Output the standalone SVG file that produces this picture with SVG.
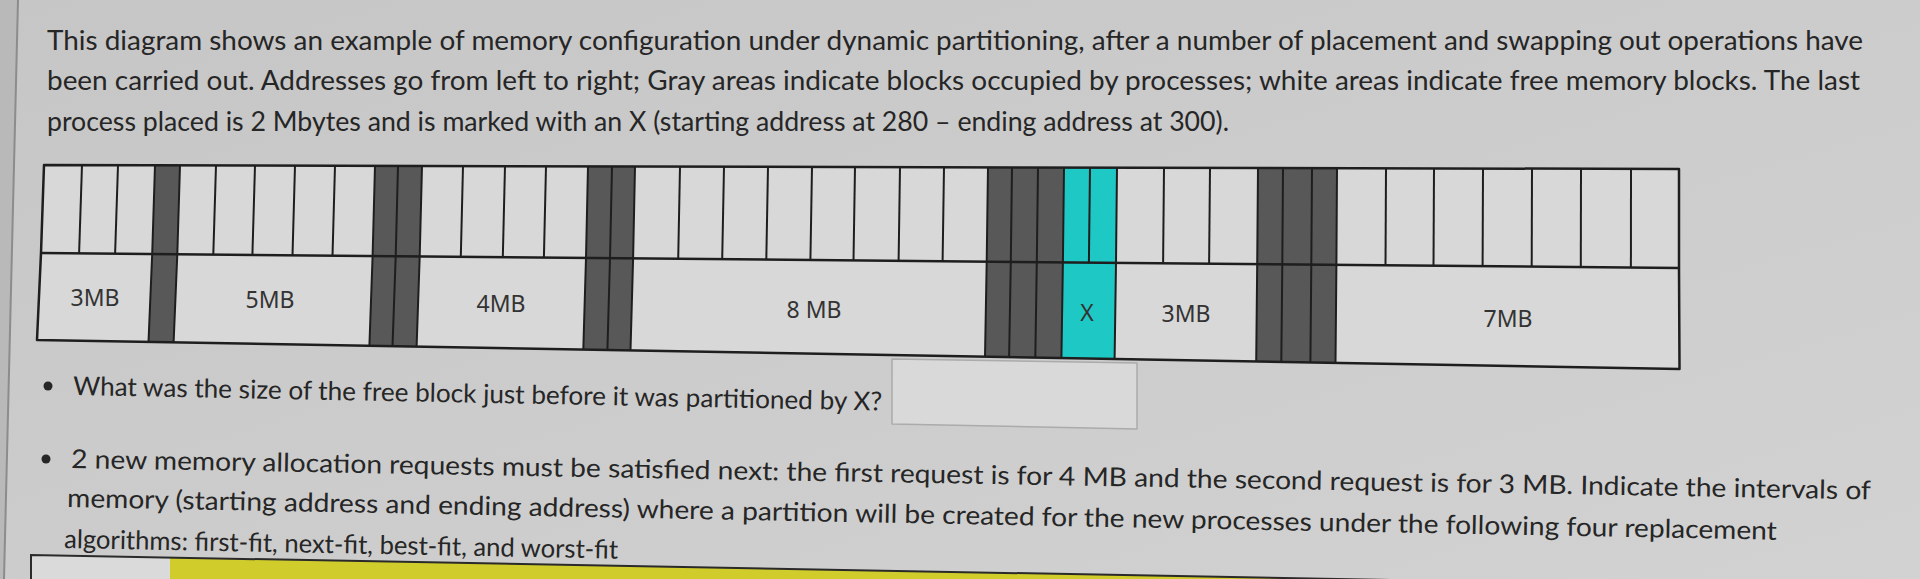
<svg xmlns="http://www.w3.org/2000/svg" width="1920" height="579" viewBox="0 0 1920 579">
  <defs>
    <linearGradient id="bg" x1="0" y1="0" x2="1" y2="1">
      <stop offset="0" stop-color="#c6c6c6"/>
      <stop offset="1" stop-color="#d2d2d2"/>
    </linearGradient>
    <style>
      .para { font-family: Lato, "Open Sans", "Liberation Sans", sans-serif; font-size: 26px; fill: #262626; }
      .lbl { font-family: "Noto Sans", "DejaVu Sans", sans-serif; font-size: 23px; fill: #333333; text-anchor: middle; }
      .free { fill: #d8d8d8; }
      .used { fill: #585858; }
      .x { fill: #1ec9c5; }
      .ln { fill: none; stroke: #1e1e1e; stroke-width: 2; stroke-linejoin: round; }
      .bd { fill: none; stroke: #1e1e1e; stroke-width: 2.5; stroke-linejoin: round; }
    </style>
  </defs>

  <rect x="0" y="0" width="1920" height="579" fill="url(#bg)"/>
  <polygon points="0,0 18,0 4,579 0,579" fill="#b9b9b9"/>
  <line x1="18" y1="0" x2="4" y2="579" stroke="#8c8c8c" stroke-width="2"/>

  <g id="intro">
    <text class="para" x="47" y="50" textLength="1816" lengthAdjust="spacingAndGlyphs">This diagram shows an example of memory configuration under dynamic partitioning, after a number of placement and swapping out operations have</text>
    <text class="para" x="47" y="90" textLength="1813" lengthAdjust="spacingAndGlyphs">been carried out. Addresses go from left to right; Gray areas indicate blocks occupied by processes; white areas indicate free memory blocks. The last</text>
    <text class="para" x="47" y="131" textLength="1182" lengthAdjust="spacingAndGlyphs">process placed is 2 Mbytes and is marked with an X (starting address at 280 – ending address at 300).</text>
  </g>

  <g id="memory-map">
    <polygon class="free" points="44,165 1679,169 1679,268 1679.5,369 37,340 41,253"/>
    <g id="blocks">
      <polygon class="used" points="155,165.3 180,165.3 177.3,254.3 173.6,342.5 148.5,342.1 152.2,254"/>
      <polygon class="used" points="375,165.8 422,165.9 419.7,256.5 416.6,346.7 369.4,345.9 372.6,256.1"/>
      <polygon class="used" points="588,166.3 635,166.5 633.1,258.5 630.5,350.5 583.3,349.6 586,258"/>
      <polygon class="used" points="988,167.3 1064,167.5 1062.9,262.4 1061.4,358.1 985,356.7 986.7,261.7"/>
      <polygon id="block-x" class="x" points="1064,167.5 1117,167.6 1116,262.8 1114.6,359 1061.4,358.1 1062.9,262.4"/>
      <polygon class="used" points="1258,168 1337,168.2 1336.4,264.9 1335.5,362.9 1256.2,361.5 1257.2,264.1"/>
    </g>
    <g id="grid">
      <polygon class="bd" points="44,165 1679,169 1679,268 1679.5,369 37,340 41,253"/>
      <line class="bd" x1="41" y1="253" x2="1679" y2="268"/>
      <polyline class="ln" points="155,165.3 152.2,254 148.5,342.1"/>
      <polyline class="ln" points="180,165.3 177.3,254.3 173.6,342.5"/>
      <polyline class="ln" points="375,165.8 372.6,256.1 369.4,345.9"/>
      <polyline class="ln" points="398,165.9 395.7,256.3 392.5,346.4"/>
      <polyline class="ln" points="422,165.9 419.7,256.5 416.6,346.7"/>
      <polyline class="ln" points="588,166.3 586,258 583.3,349.6"/>
      <polyline class="ln" points="612,166.4 610,258.2 607.4,350.1"/>
      <polyline class="ln" points="635,166.5 633.1,258.5 630.5,350.5"/>
      <polyline class="ln" points="988,167.3 986.7,261.7 985,356.7"/>
      <polyline class="ln" points="1012,167.4 1010.8,261.9 1009.1,357.2"/>
      <polyline class="ln" points="1038,167.4 1036.8,262.1 1035.3,357.7"/>
      <polyline class="ln" points="1064,167.5 1062.9,262.4 1061.4,358.1"/>
      <polyline class="ln" points="1117,167.6 1116,262.8 1114.6,359"/>
      <polyline class="ln" points="1258,168 1257.2,264.1 1256.2,361.5"/>
      <polyline class="ln" points="1283,168 1282.3,264.4 1281.3,362"/>
      <polyline class="ln" points="1312,168.1 1311.3,264.6 1310.4,362.5"/>
      <polyline class="ln" points="1337,168.2 1336.4,264.9 1335.5,362.9"/>
      <line class="ln" x1="82" y1="165.1" x2="79.1" y2="253.4"/>
      <line class="ln" x1="118" y1="165.2" x2="115.1" y2="253.7"/>
      <line class="ln" x1="216" y1="165.4" x2="213.3" y2="254.6"/>
      <line class="ln" x1="255" y1="165.5" x2="252.4" y2="255"/>
      <line class="ln" x1="295" y1="165.6" x2="292.5" y2="255.3"/>
      <line class="ln" x1="335" y1="165.7" x2="332.5" y2="255.7"/>
      <line class="ln" x1="463" y1="166" x2="460.8" y2="256.9"/>
      <line class="ln" x1="505" y1="166.1" x2="502.8" y2="257.3"/>
      <line class="ln" x1="546" y1="166.2" x2="543.9" y2="257.6"/>
      <line class="ln" x1="680" y1="166.6" x2="678.2" y2="258.9"/>
      <line class="ln" x1="724" y1="166.7" x2="722.2" y2="259.3"/>
      <line class="ln" x1="768" y1="166.8" x2="766.3" y2="259.7"/>
      <line class="ln" x1="812" y1="166.9" x2="810.4" y2="260.1"/>
      <line class="ln" x1="855" y1="167" x2="853.5" y2="260.5"/>
      <line class="ln" x1="900" y1="167.1" x2="898.6" y2="260.9"/>
      <line class="ln" x1="944" y1="167.2" x2="942.6" y2="261.3"/>
      <line class="ln" x1="1090" y1="167.6" x2="1088.9" y2="262.6"/>
      <line class="ln" x1="1164" y1="167.8" x2="1163.1" y2="263.3"/>
      <line class="ln" x1="1210" y1="167.9" x2="1209.1" y2="263.7"/>
      <line class="ln" x1="1386" y1="168.3" x2="1385.5" y2="265.3"/>
      <line class="ln" x1="1434" y1="168.4" x2="1433.5" y2="265.7"/>
      <line class="ln" x1="1483" y1="168.5" x2="1482.6" y2="266.2"/>
      <line class="ln" x1="1532" y1="168.6" x2="1531.7" y2="266.6"/>
      <line class="ln" x1="1581" y1="168.7" x2="1580.8" y2="267.1"/>
      <line class="ln" x1="1631" y1="168.9" x2="1630.9" y2="267.5"/>
    </g>
    <g id="labels">
      <text class="lbl" x="95" y="306">3MB</text>
      <text class="lbl" x="270" y="308">5MB</text>
      <text class="lbl" x="501" y="312">4MB</text>
      <text class="lbl" x="814" y="318">8 MB</text>
      <text class="lbl" x="1087" y="321">X</text>
      <text class="lbl" x="1186" y="322">3MB</text>
      <text class="lbl" x="1508" y="327">7MB</text>
    </g>
  </g>

  <g id="question-1">
    <circle cx="48" cy="386" r="4.5" fill="#262626"/>
    <text class="para" x="73" y="395" textLength="809" lengthAdjust="spacingAndGlyphs" transform="rotate(1.1 73 395)">What was the size of the free block just before it was partitioned by X?</text>
    <polygon id="answer-box" points="892,359 1137,363 1137,429 892,424" fill="#d9d9d9" stroke="#ababab" stroke-width="1.5" stroke-linejoin="round"/>
  </g>

  <g id="question-2">
    <circle cx="46" cy="459" r="4.5" fill="#262626"/>
    <text class="para" x="71" y="468" textLength="1800" lengthAdjust="spacingAndGlyphs" transform="rotate(1.0 71 468)">2 new memory allocation requests must be satisfied next: the first request is for 4 MB and the second request is for 3 MB. Indicate the intervals of</text>
    <text class="para" x="67" y="507" textLength="1710" lengthAdjust="spacingAndGlyphs" transform="rotate(1.1 67 507)">memory (starting address and ending address) where a partition will be created for the new processes under the following four replacement</text>
    <text class="para" x="64" y="548" textLength="554" lengthAdjust="spacingAndGlyphs" transform="rotate(1.1 64 548)">algorithms: first-fit, next-fit, best-fit, and worst-fit</text>
  </g>

  <g id="answer-table">
    <polygon points="31,555 170,557.5 170,579 31,579" fill="#dadada"/>
    <polygon points="170,557.5 1500,582 1500,579 170,579" fill="#cfcc2c"/>
    <polyline points="31,579 31,555 1500,582" fill="none" stroke="#2a2a2a" stroke-width="2"/>
  </g>
</svg>
